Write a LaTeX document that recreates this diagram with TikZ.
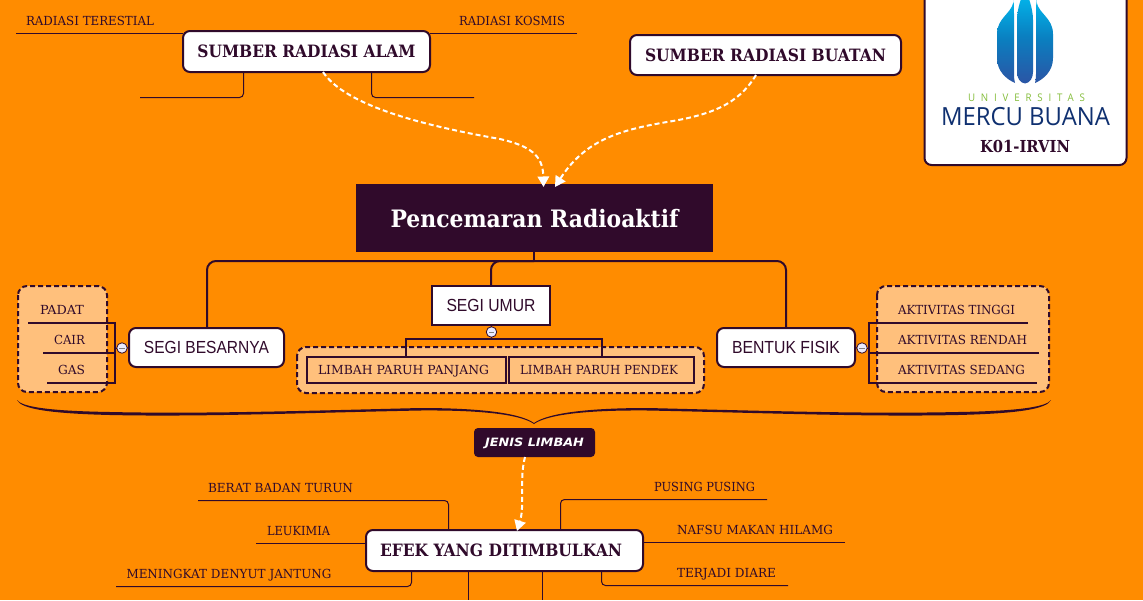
\documentclass[tikz,border=0pt]{standalone}
\usepackage{fontspec}
\usepackage{graphicx}
\setmainfont{DejaVu Serif}
\newfontfamily\robo{Liberation Sans}
\newfontfamily\logofont{Open Sans}
\newfontfamily\logospaced[LetterSpace=60]{Open Sans}
\newfontfamily\jenisfont{DejaVu Sans}
\usetikzlibrary{arrows.meta,calc}
\definecolor{ink}{HTML}{300A2B}
\definecolor{bgorange}{HTML}{FF8C00}
\definecolor{soft}{HTML}{FFC07C}
\definecolor{navy}{HTML}{0F3070}
\definecolor{leafgreen}{HTML}{84BD3A}
\definecolor{flameA}{HTML}{2B55A5}
\definecolor{flameB}{HTML}{0A7FC0}
\definecolor{flameC}{HTML}{00BFF3}
\newcommand\fitw[3]{\fontsize{#2}{#2}\selectfont\resizebox{#1pt}{\height}{#3}}
\pgfdeclareverticalshading{flameshade}{100bp}{
  color(0bp)=(flameA); color(25bp)=(flameA); color(50bp)=(flameB); color(75bp)=(flameC); color(100bp)=(flameC)}
\tikzset{
  x=1pt,y=-1pt,
  every node/.style={inner sep=0pt,outer sep=0pt,text=ink},
  leaflabel/.style={anchor=base west},
  mainbox/.style={draw=ink,fill=white,line width=2pt,rounded corners=7pt,text depth=0pt,anchor=north west},
  plainbox/.style={mainbox,rounded corners=0pt},
  softbox/.style={draw=ink,fill=soft,line width=2pt,text depth=0pt,anchor=north west},
  dashgroup/.style={draw=ink,fill=soft,line width=2pt,dash pattern=on 5pt off 3pt,rounded corners=9pt},
  thinlink/.style={draw=ink,line width=1pt,rounded corners=4pt},
  thicklink/.style={draw=ink,line width=2pt},
  flow/.style={draw=white,line width=2pt,dash pattern=on 5pt off 3pt,-{Triangle[length=10.5pt,width=11.5pt,fill=white]}},
  togglemark/.style={circle,draw=ink,fill=white!92!blue,line width=.8pt,minimum size=10.5pt},
  flamepart/.style={shading=flameshade},
}
\begin{document}
\begin{tikzpicture}
\useasboundingbox (0,0) rectangle (1143,600);
\clip (0,0) rectangle (1143,600);
\fill[bgorange] (0,0) rectangle (1143,600);

% dashed groups behind everything
\path[dashgroup] (18,286) rectangle (107,392);
\path[dashgroup] (297,347) rectangle (704,393);
\path[dashgroup] (877,286) rectangle (1049,392);

% logo card
\node[mainbox,minimum width=202pt,minimum height=176pt] (card) at (924.5,-11) {};
\shade[flamepart] (1013.5,-6) -- (1013.5,2) .. controls (1011,14) and (997,18) .. (997,34) -- (997,58)
  .. controls (997,71) and (1006,79) .. (1015,83) .. controls (1014,79) and (1014,76) .. (1014,72) -- (1014,14) -- cycle;
\shade[flamepart] (1036.5,-6) -- (1036.5,2) .. controls (1039,14) and (1053,18) .. (1053,34) -- (1053,58)
  .. controls (1053,71) and (1044,79) .. (1035,83) .. controls (1036,79) and (1036,76) .. (1036,72) -- (1036,14) -- cycle;
\shade[flamepart] (1025,-12) .. controls (1028,-4) and (1033,8) .. (1033,20) -- (1033,72)
  .. controls (1033,78) and (1030,83) .. (1025,83.5) .. controls (1020,83) and (1017,78) .. (1017,72) -- (1017,20)
  .. controls (1017,8) and (1022,-4) .. (1025,-12) -- cycle;
\node[leaflabel] (univ) at (968,101.5) {\logospaced\fontsize{10.5}{10.5}\selectfont\resizebox{117pt}{\height}{\color{leafgreen}UNIVERSITAS}};
\node[leaflabel] (mercu) at (941,125) {\logofont\fontsize{25}{25}\selectfont\resizebox{169pt}{\height}{\color{navy}MERCU BUANA}};
\node[leaflabel] (kode) at (980,152) {\bfseries\fitw{90}{16.5}{K01-IRVIN}};

% coordinates for free connector ends
\coordinate (terEnd) at (16,33.5);
\coordinate (kosEnd) at (577,33.5);
\coordinate (blTurn) at (243.5,97.5);
\coordinate (blEnd) at (140,97.5);
\coordinate (brTurn) at (371.5,97.5);
\coordinate (brEnd) at (474,97.5);
\coordinate (hubY) at (534,261);
\coordinate (besarX) at (207,261);
\coordinate (umurX) at (491,261);
\coordinate (fisikX) at (786,261);
\coordinate (padatL) at (28,323);
\coordinate (cairL) at (43,353);
\coordinate (gasL) at (47,383);
\coordinate (leftBar) at (115,348);
\coordinate (tinggiR) at (1028,323);
\coordinate (rendahR) at (1039,353);
\coordinate (sedangR) at (1037,383);
\coordinate (rightBar) at (869,348);
\coordinate (umurBarL) at (406,339);
\coordinate (umurBarR) at (602,339);
\coordinate (beratEnd) at (198,500.5);
\coordinate (beratTurn) at (448.5,500.5);
\coordinate (leukEnd) at (256,543.5);
\coordinate (denyutEnd) at (116,586.5);
\coordinate (denyutTurn) at (411.5,586.5);
\coordinate (pusingEnd) at (767,499.5);
\coordinate (pusingTurn) at (560.5,499.5);
\coordinate (nafsuEnd) at (845,542.5);
\coordinate (diareEnd) at (788,585.5);
\coordinate (diareTurn) at (601.5,585.5);
\coordinate (downA) at (468.5,600);
\coordinate (downB) at (542.5,600);
\coordinate (startAlam) at (323,72);
\coordinate (startBuatan) at (756,75);
\coordinate (startJenis) at (525,457);

% main nodes
\node[fill=ink,minimum width=357pt,minimum height=68pt,anchor=north west,text depth=0pt,text=white] (central) at (356,184)
  {\color{white}\fitw{288}{24}{\bfseries Pencemaran Radioaktif}};
\node[mainbox,minimum width=247pt,minimum height=41pt] (alam) at (183,31) {\bfseries\fitw{218}{17}{SUMBER RADIASI ALAM}};
\node[mainbox,minimum width=271pt,minimum height=40pt] (buatan) at (630,35) {\bfseries\fitw{241}{17}{SUMBER RADIASI BUATAN}};
\node[mainbox,minimum width=155pt,minimum height=39pt] (besar) at (129,328) {\robo\fitw{125}{17.5}{SEGI BESARNYA}};
\node[plainbox,minimum width=118pt,minimum height=39pt] (umur) at (432,286) {\robo\fitw{89}{17.5}{SEGI UMUR}};
\node[mainbox,minimum width=138pt,minimum height=39pt] (fisik) at (717,328) {\robo\fitw{108}{17.5}{BENTUK FISIK}};
\node[softbox,minimum width=199pt,minimum height=26pt] (panjang) at (307,357) {\kern-6pt\fitw{171}{12.5}{LIMBAH PARUH PANJANG}};
\node[softbox,minimum width=185pt,minimum height=26pt] (pendek) at (509,357) {\kern-5pt\fitw{158}{12.5}{LIMBAH PARUH PENDEK}};
\node[fill=ink,rounded corners=4pt,minimum width=121pt,minimum height=29pt,anchor=north west,text depth=0pt] (jenis) at (474,428)
  {\color{white}\jenisfont\bfseries\itshape\fitw{99}{11.5}{JENIS LIMBAH}};
\node[mainbox,minimum width=277pt,minimum height=41pt] (efek) at (366,530) {\kern-7pt\bfseries\fitw{242}{17}{EFEK YANG DITIMBULKAN}};

% toggles
\node[togglemark] (togBesar) at (122,348) {};
\node[togglemark] (togUmur) at (491.5,332) {};
\node[togglemark] (togFisik) at (862,348) {};
\foreach \t in {togBesar,togUmur,togFisik}
  \draw[line width=.9pt,black!50,shorten <=2.5pt,shorten >=2.5pt] (\t.west) -- (\t.east);

% connectors: Sumber Radiasi Alam
\draw[thinlink] (terEnd) -- (terEnd -| alam.west);
\draw[thinlink] (kosEnd) -- (kosEnd -| alam.east);
\draw[thinlink] (blEnd) -- (blTurn) -- (blTurn |- alam.south);
\draw[thinlink] (brEnd) -- (brTurn) -- (brTurn |- alam.south);

% connectors: centre to the three branches
\draw[thicklink] (central.south -| hubY) -- (hubY);
\draw[thicklink,rounded corners=9pt] (besar.north -| besarX) -- (besarX) -- (fisikX) -- (fisik.north -| fisikX);
\draw[thicklink,rounded corners=9pt] (umur.north -| umurX) -- (umurX) -- (hubY);

% left leaves
\draw[thicklink] (padatL) -- (padatL -| leftBar) -- (gasL -| leftBar) -- (gasL);
\draw[thicklink] (cairL) -- (cairL -| leftBar);
\draw[thicklink,line width=1pt] (leftBar) -- (togBesar.west);
\draw[thicklink,line width=1pt] (togBesar.east) -- (besar.west);
\node[leaflabel] (padat) at (40,314) {\fitw{44}{12.5}{PADAT}};
\node[leaflabel] (cair) at (54,344) {\fitw{31}{12.5}{CAIR}};
\node[leaflabel] (gas) at (58,374) {\fitw{27}{12.5}{GAS}};

% right leaves
\draw[thicklink] (tinggiR) -- (tinggiR -| rightBar) -- (sedangR -| rightBar) -- (sedangR);
\draw[thicklink] (rendahR) -- (rendahR -| rightBar);
\draw[thicklink,line width=1pt] (fisik.east) -- (togFisik.west);
\draw[thicklink,line width=1pt] (togFisik.east) -- (rightBar);
\node[leaflabel] (tinggi) at (898,314) {\fitw{117}{12.5}{AKTIVITAS TINGGI}};
\node[leaflabel] (rendah) at (898,344) {\fitw{129}{12.5}{AKTIVITAS RENDAH}};
\node[leaflabel] (sedang) at (898,374) {\fitw{127}{12.5}{AKTIVITAS SEDANG}};

% middle leaves
\draw[thicklink] (panjang.north -| umurBarL) -- (umurBarL) -- (umurBarR) -- (pendek.north -| umurBarR);
\draw[thicklink,line width=1pt] (umur.south) -- (togUmur.north);
\draw[thicklink,line width=1pt] (togUmur.south) -- (togUmur.south |- umurBarL);

% brace
\fill[ink] (17,400) .. controls (22,407) and (50,411) .. (110,412)
  .. controls (200,414) and (300,411) .. (420,408)
  .. controls (480,408) and (520,413) .. (534,423)
  .. controls (548,413) and (588,408) .. (648,408)
  .. controls (768,411) and (868,414) .. (958,412)
  .. controls (1018,411) and (1046,407) .. (1051,400)
  .. controls (1047,409) and (1018,413.5) .. (958,415)
  .. controls (868,417) and (768,413) .. (648,410.5)
  .. controls (590,410) and (548,414) .. (534,424)
  .. controls (520,414) and (478,410) .. (420,410.5)
  .. controls (300,413) and (200,417) .. (110,415)
  .. controls (50,413.5) and (21,409) .. (17,400) -- cycle;

% bottom connectors
\draw[thinlink] (beratEnd) -- (beratTurn) -- (beratTurn |- efek.north);
\draw[thinlink] (leukEnd) -- (leukEnd -| efek.west);
\draw[thinlink] (denyutEnd) -- (denyutTurn) -- (denyutTurn |- efek.south);
\draw[thinlink] (pusingEnd) -- (pusingTurn) -- (pusingTurn |- efek.north);
\draw[thinlink] (nafsuEnd) -- (nafsuEnd -| efek.east);
\draw[thinlink] (diareEnd) -- (diareTurn) -- (diareTurn |- efek.south);
\draw[thinlink] (downA |- efek.south) -- (downA);
\draw[thinlink] (downB |- efek.south) -- (downB);

% leaf labels top and bottom
\node[leaflabel] (terestial) at (26,25) {\fitw{128}{12.5}{RADIASI TERESTIAL}};
\node[leaflabel] (kosmis) at (459,25) {\fitw{106}{12.5}{RADIASI KOSMIS}};
\node[leaflabel] (berat) at (208,492) {\fitw{145}{12.5}{BERAT BADAN TURUN}};
\node[leaflabel] (leukimia) at (267,535.5) {\fitw{63}{12.5}{LEUKIMIA}};
\node[leaflabel] (denyut) at (126.5,578) {\fitw{205}{12.5}{MENINGKAT DENYUT JANTUNG}};
\node[leaflabel] (pusing) at (654,491) {\fitw{101}{12.5}{PUSING PUSING}};
\node[leaflabel] (nafsu) at (677,534) {\fitw{156}{12.5}{NAFSU MAKAN HILAMG}};
\node[leaflabel] (diare) at (677,577) {\fitw{99}{12.5}{TERJADI DIARE}};

% white flow arrows
\draw[flow] (startAlam) .. controls (345,105) and (420,125) .. (500,139) .. controls (530,146) and (543,155) .. ($(central.north west)+(187.5,3)$);
\draw[flow] (startBuatan) .. controls (738,105) and (710,115) .. (667,122) .. controls (620,130) and (585,140) .. ($(central.north west)+(199,3)$);
\draw[flow] (startJenis) .. controls (519,480) and (525,505) .. ($(efek.north west)+(151,1)$);
\end{tikzpicture}
\end{document}
